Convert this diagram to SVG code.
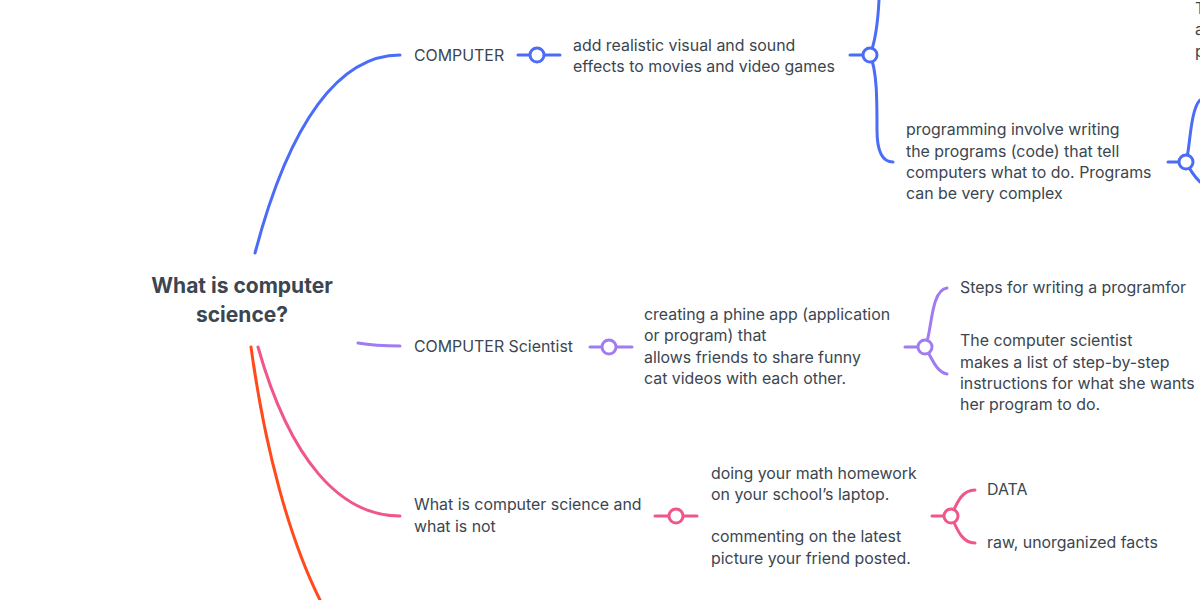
<svg xmlns="http://www.w3.org/2000/svg" width="1200" height="600" viewBox="0 0 1200 600">
<style>
text{font-family:Inter,"Noto Sans","Liberation Sans",sans-serif;font-size:15.9px;fill:#3b4650}
.root{font-size:21px;font-weight:700;text-anchor:middle}
path{fill:none;stroke-width:3;stroke-linecap:round}
circle{fill:#fff;stroke-width:3}
.b{stroke:#4a6cf7}.p{stroke:#a17cf0}.k{stroke:#f0558c}.r{stroke:#ff4a1c}
</style>
<rect width="1200" height="600" fill="#fff"/>
<g id="connectors">
<path class="b" d="M255,253 C290,120 340,55 400,55"/>
<path class="b" d="M518,55 H560"/>
<path class="b" d="M850,55 H870 M870,55 C876,40 878,20 879,0 M870,55 C877,70 877,100 877,130 C877,150 882,162 893,162"/>
<path class="b" d="M1168,162 H1186 M1186,162 C1190,150 1190,110 1200,100 M1186,162 C1190,170 1194,176 1200,182"/>
<path class="p" d="M358,343 C375,346 390,346 400,346"/>
<path class="p" d="M590,347 H632"/>
<path class="p" d="M905,347 H925 M925,347 C932,335 930,290 947,288 M925,347 C932,358 936,372 947,374"/>
<path class="k" d="M258,347 C290,460 340,516 400,516"/>
<path class="k" d="M655,516 H697"/>
<path class="k" d="M932,516 H951 M951,516 C958,500 963,490 975,490 M951,516 C958,532 963,543 975,543"/>
<path class="r" d="M251,347 C265,450 290,540 320,600"/>
<circle class="b" cx="537" cy="55" r="7"/>
<circle class="b" cx="870" cy="55" r="7"/>
<circle class="b" cx="1186" cy="162" r="7"/>
<circle class="p" cx="609" cy="347" r="7"/>
<circle class="p" cx="925" cy="347" r="7"/>
<circle class="k" cx="676" cy="516" r="7"/>
<circle class="k" cx="951" cy="516" r="7"/>
</g>
<g id="root"><text class="root" x="242" y="293">What is computer</text><text class="root" x="242" y="322">science?</text></g>
<g id="n-computer"><text x="414" y="61">COMPUTER</text></g>
<g id="n-effects"><text x="573" y="51">add realistic visual and sound</text><text x="573" y="72">effects to movies and video games</text></g>
<g id="n-cut"><text x="1195" y="14">T</text><text x="1195" y="35">a</text><text x="1195" y="57">p</text></g>
<g id="n-programming"><text x="906" y="135">programming involve writing</text><text x="906" y="157">the programs (code) that tell</text><text x="906" y="178">computers what to do. Programs</text><text x="906" y="199">can be very complex</text></g>
<g id="n-scientist"><text x="414" y="352">COMPUTER Scientist</text></g>
<g id="n-app"><text x="644" y="320">creating a phine app (application</text><text x="644" y="341">or program) that</text><text x="644" y="363">allows friends to share funny</text><text x="644" y="384">cat videos with each other.</text></g>
<g id="n-steps"><text x="960" y="293">Steps for writing a programfor</text></g>
<g id="n-list"><text x="960" y="346">The computer scientist</text><text x="960" y="368">makes a list of step-by-step</text><text x="960" y="389">instructions for what she wants</text><text x="960" y="410">her program to do.</text></g>
<g id="n-whatis"><text x="414" y="510">What is computer science and</text><text x="414" y="532">what is not</text></g>
<g id="n-examples"><text x="711" y="479">doing your math homework</text><text x="711" y="500">on your school’s laptop.</text><text x="711" y="542">commenting on the latest</text><text x="711" y="564">picture your friend posted.</text></g>
<g id="n-data"><text x="987" y="495">DATA</text></g>
<g id="n-raw"><text x="987" y="548">raw, unorganized  facts</text></g>
</svg>
